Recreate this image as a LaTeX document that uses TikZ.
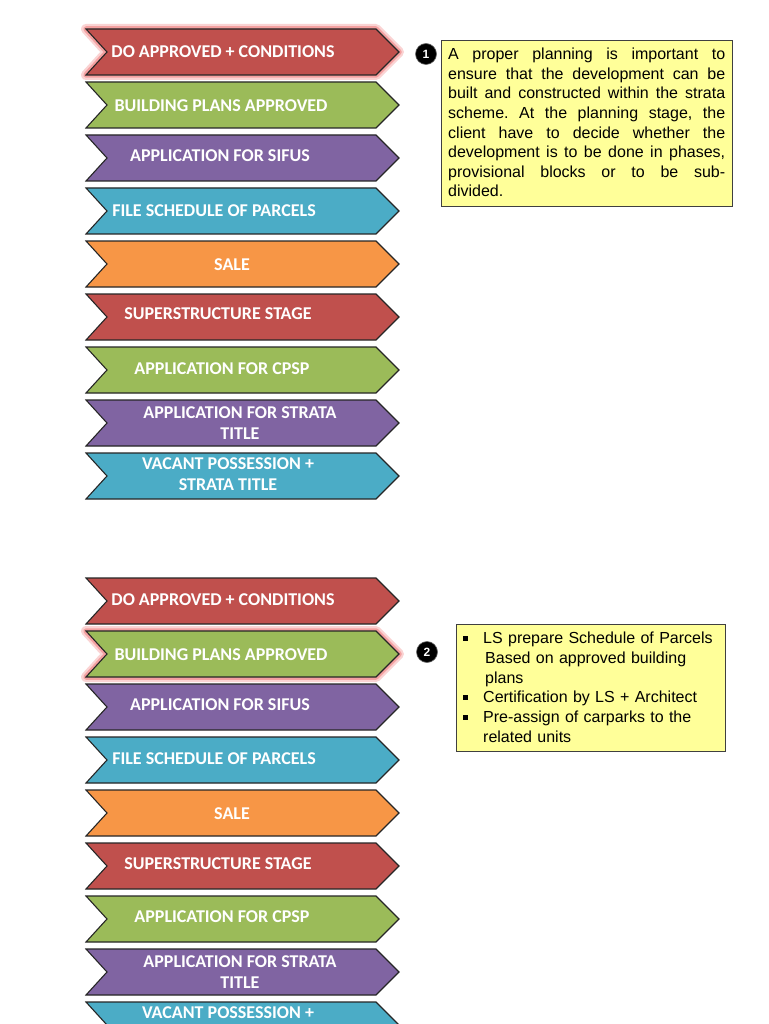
\documentclass[tikz,border=0pt]{standalone}
\usepackage{fontspec}
\setmainfont{Liberation Sans}
\newfontfamily\calfont{Carlito}
\definecolor{cred}{HTML}{C0504D}
\definecolor{cgreen}{HTML}{9BBB59}
\definecolor{cpurple}{HTML}{8064A2}
\definecolor{cteal}{HTML}{4BACC6}
\definecolor{corange}{HTML}{F79646}
\definecolor{glowred}{HTML}{F07070}
\definecolor{noteyellow}{HTML}{FFFF99}
\tikzset{
  chev/.style={draw=black!85, line width=1.1pt, line join=miter},
  glowA/.style={draw=glowred, line width=10pt, opacity=0.3, line join=round},
  glowB/.style={draw=glowred, line width=5.5pt, opacity=0.5, line join=round},
  lab/.style={text=white, font=\calfont\bfseries\fontsize{18}{21}\selectfont, align=center, inner sep=0pt},
  note/.style={draw=black!75, line width=0.9pt, fill=noteyellow},
  badge/.style={circle, fill=black, draw=black!60, line width=0.6pt, minimum size=21pt, inner sep=0pt, text=white, font=\bfseries\fontsize{12}{12}\selectfont},
}
\newcommand\chevpath[1]{(86,#1-23) -- (376,#1-23) -- (399,#1) -- (376,#1+23) -- (86,#1+23) -- (107,#1) -- cycle}
\newcommand\mychev[2]{\path[chev, fill=#2] \chevpath{#1};}
\newcommand\mychevglow[2]{\path[glowA] \chevpath{#1}; \path[glowB] \chevpath{#1}; \path[chev, fill=#2] \chevpath{#1};}
\begin{document}
\begin{tikzpicture}[x=1pt,y=-1pt]
\useasboundingbox[fill=white] (0,0) rectangle (768,1024);
% ---------- top set ----------
\mychevglow{52}{cred}
\mychev{105}{cgreen}
\mychev{158}{cpurple}
\mychev{211}{cteal}
\mychev{264}{corange}
\mychev{317}{cred}
\mychev{370}{cgreen}
\mychev{423}{cpurple}
\mychev{476}{cteal}
\node[lab] (a1) at (223,52) {DO APPROVED + CONDITIONS};
\node[lab] (a2) at (221,106) {BUILDING PLANS APPROVED};
\node[lab] (a3) at (220,156) {APPLICATION FOR SIFUS};
\node[lab] (a4) at (214,211) {FILE SCHEDULE OF PARCELS};
\node[lab] (a5) at (232,265) {SALE};
\node[lab] (a6) at (218,314) {SUPERSTRUCTURE STAGE};
\node[lab] (a7) at (222,369) {APPLICATION FOR CPSP};
\node[lab] (a8) at (240,423) {APPLICATION FOR STRATA\\TITLE};
\node[lab] (a9) at (228,474) {VACANT POSSESSION +\\STRATA TITLE};
% ---------- bottom set ----------
\mychev{601}{cred}
\mychevglow{654}{cgreen}
\mychev{707}{cpurple}
\mychev{760}{cteal}
\mychev{813}{corange}
\mychev{866}{cred}
\mychev{919}{cgreen}
\mychev{972}{cpurple}
\mychev{1025}{cteal}
\node[lab] (b1) at (223,600) {DO APPROVED + CONDITIONS};
\node[lab] (b2) at (221,655) {BUILDING PLANS APPROVED};
\node[lab] (b3) at (220,705) {APPLICATION FOR SIFUS};
\node[lab] (b4) at (214,759) {FILE SCHEDULE OF PARCELS};
\node[lab] (b5) at (232,814) {SALE};
\node[lab] (b6) at (218,864) {SUPERSTRUCTURE STAGE};
\node[lab] (b7) at (222,917) {APPLICATION FOR CPSP};
\node[lab] (b8) at (240,972) {APPLICATION FOR STRATA\\TITLE};
\node[lab] (b9) at (228,1013) {VACANT POSSESSION +};
% ---------- notes ----------
\path[note] (441,40) rectangle (732,206);
\node[anchor=north west, inner sep=0pt, text width=277pt, align=justify,
      font=\fontsize{16}{19.6}\selectfont] (n1) at (448,48)
  {\frenchspacing A proper planning is important to\linebreak
   ensure that the development can be\linebreak
   built and constructed within the strata\linebreak
   scheme. At the planning stage, the\linebreak
   client have to decide whether the\linebreak
   development is to be done in phases,\linebreak
   provisional blocks or to be sub-\linebreak
   divided.};
\node[badge] (c1) at (426,54) {1};
\path[note] (456,624) rectangle (725,751);
\node[anchor=north west, inner sep=0pt, text width=262pt, align=left,
      font=\fontsize{16}{19.7}\selectfont] (n2) at (461,632)
  {\makebox[22pt][l]{\hspace{2pt}\raisebox{3pt}{\rule{4.5pt}{4.5pt}}}LS prepare Schedule of Parcels\\
   \hspace*{24pt}Based on approved building\\
   \hspace*{24pt}plans\\
   \makebox[22pt][l]{\hspace{2pt}\raisebox{3pt}{\rule{4.5pt}{4.5pt}}}Certification by LS + Architect\\
   \makebox[22pt][l]{\hspace{2pt}\raisebox{3pt}{\rule{4.5pt}{4.5pt}}}Pre-assign of carparks to the\\
   \hspace*{22pt}related units};
\node[badge] (c2) at (427,652) {2};
\end{tikzpicture}
\end{document}
